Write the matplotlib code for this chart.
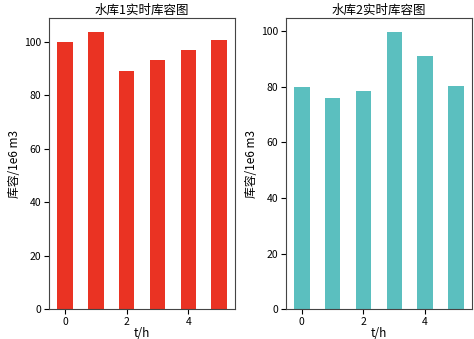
import matplotlib
matplotlib.use("Agg")
import matplotlib.pyplot as plt

plt.rcParams['font.family'] = ['Noto Sans CJK SC', 'DejaVu Sans']
plt.rcParams['axes.unicode_minus'] = False

hours = [0, 1, 2, 3, 4, 5]
storage1 = [100.0, 103.8, 89.2, 93.1, 97.1, 100.9]
storage2 = [80.0, 75.8, 78.4, 99.7, 90.9, 80.2]

titles = ['水库1实时库容图', '水库2实时库容图']
colors = ['#EA3323', '#5BBFBF']
xlabel = 't/h'
ylabel = '库容/1e6 m3'

fig, axes = plt.subplots(1, 2, figsize=(4.74, 3.39), dpi=100)
fig.subplots_adjust(left=0.103, right=0.996, top=0.947, bottom=0.088, wspace=0.27)

for ax, vals, title, color in zip(axes, [storage1, storage2], titles, colors):
    ax.bar(hours, vals, width=0.5, color=color)
    ax.set_title(title, fontsize=9, pad=3)
    ax.set_xlabel(xlabel, fontsize=8.5, labelpad=0)
    ax.set_ylabel(ylabel, fontsize=8.5, labelpad=2)
    ax.set_xticks([0, 2, 4])
    ax.tick_params(labelsize=7.5, length=3.5, pad=2)
    for sp in ax.spines.values():
        sp.set_color('#444444')

fig.savefig('out.png', dpi=100)
